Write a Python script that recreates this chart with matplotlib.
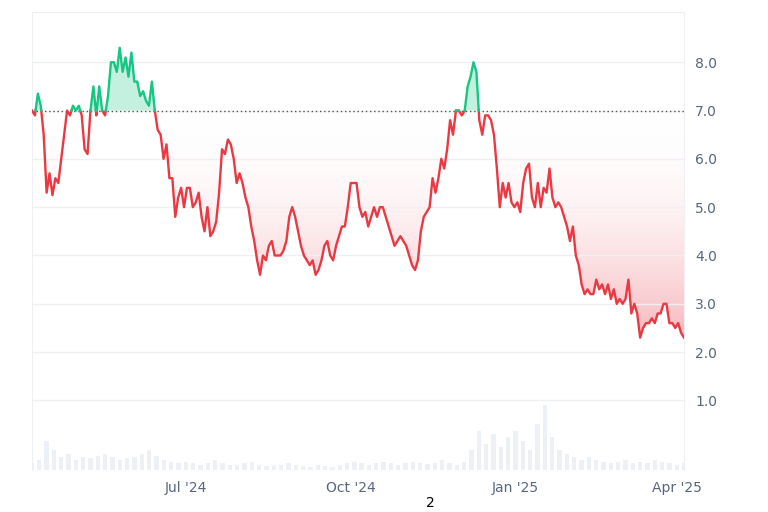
import numpy as np, pandas as pd, matplotlib
matplotlib.use("Agg")
import matplotlib.pyplot as plt
import matplotlib.dates as mdates
from matplotlib.patches import PathPatch
from matplotlib.path import Path
from matplotlib.colors import LinearSegmentedColormap

start, end = "2024-04-06", "2025-04-05"
values = [7.0,6.9,7.35,7.1,6.5,5.3,5.7,5.25,5.6,5.5,6.0,6.5,7.0,6.9,7.1,7.0,7.1,6.9,6.2,6.1,7.0,7.5,6.9,7.5,7.0,6.9,7.3,8.0,8.0,7.8,8.3,7.8,8.1,7.7,8.2,7.6,7.6,7.3,7.4,7.2,7.1,7.6,7.0,6.6,6.5,6.0,6.3,5.6,5.6,4.8,5.2,5.4,5.0,5.4,5.4,5.0,5.1,5.3,4.8,4.5,5.0,4.4,4.5,4.7,5.3,6.2,6.1,6.4,6.3,6.0,5.5,5.7,5.5,5.2,5.0,4.6,4.3,3.9,3.6,4.0,3.9,4.2,4.3,4.0,4.0,4.0,4.1,4.3,4.8,5.0,4.8,4.5,4.2,4.0,3.9,3.8,3.9,3.6,3.7,3.9,4.2,4.3,4.0,3.9,4.2,4.4,4.6,4.6,5.0,5.5,5.5,5.5,5.0,4.8,4.9,4.6,4.8,5.0,4.8,5.0,5.0,4.8,4.6,4.4,4.2,4.3,4.4,4.3,4.2,4.0,3.8,3.7,3.9,4.5,4.8,4.9,5.0,5.6,5.3,5.6,6.0,5.8,6.2,6.8,6.5,7.0,7.0,6.9,7.0,7.5,7.7,8.0,7.8,6.8,6.5,6.9,6.9,6.8,6.5,5.8,5.0,5.5,5.2,5.5,5.1,5.0,5.1,4.9,5.5,5.8,5.9,5.2,5.0,5.5,5.0,5.4,5.3,5.8,5.2,5.0,5.1,5.0,4.8,4.6,4.3,4.6,4.0,3.8,3.4,3.2,3.3,3.2,3.2,3.5,3.3,3.4,3.2,3.4,3.1,3.3,3.0,3.1,3.0,3.1,3.5,2.8,3.0,2.8,2.3,2.5,2.6,2.6,2.7,2.6,2.8,2.8,3.0,3.0,2.6,2.6,2.5,2.6,2.4,2.3]
volume = [0.1,0.15,0.45,0.3,0.2,0.25,0.15,0.2,0.18,0.22,0.25,0.2,0.15,0.18,0.2,0.25,0.3,0.22,0.15,0.12,0.1,0.12,0.1,0.08,0.1,0.15,0.1,0.08,0.07,0.1,0.12,0.08,0.06,0.07,0.08,0.1,0.08,0.06,0.05,0.07,0.06,0.05,0.08,0.1,0.12,0.1,0.08,0.1,0.12,0.1,0.08,0.1,0.12,0.1,0.09,0.1,0.15,0.1,0.08,0.12,0.3,0.6,0.4,0.55,0.35,0.5,0.6,0.45,0.3,0.7,1.0,0.5,0.3,0.25,0.2,0.15,0.2,0.15,0.12,0.1,0.12,0.15,0.1,0.12,0.1,0.15,0.12,0.1,0.08,0.1]
baseline = 7.0

dates = pd.date_range(start, end, periods=len(values))
vdates = pd.date_range(start, end, periods=len(volume))
v = np.array(values)

fig = plt.figure(figsize=(7.68, 5.12), dpi=100)
ax = fig.add_axes([32/768, 42/512, 652/768, 458/512])
vax = ax.twinx()
vax.set_zorder(0); ax.set_zorder(1); ax.patch.set_visible(False)
vax.bar(vdates, volume, width=(pd.Timestamp(end)-pd.Timestamp(start)).days/len(volume)*0.6, color="#edf0f4", zorder=0)
vax.set_ylim(0, 7); vax.set_yticks([])
for s in vax.spines.values(): s.set_visible(False)

ymin, ymax = -0.44, 9.04
xnum = mdates.date2num(dates)
ax.set_xlim(xnum[0], xnum[-1]); ax.set_ylim(ymin, ymax)

poly = ax.fill_between(xnum, v, baseline, where=v <= baseline, interpolate=True, color="none")
grad = np.linspace(0, 1, 256).reshape(-1, 1)
cmap = LinearSegmentedColormap.from_list("r", [(1, 1, 1, 0), (0.93, 0.35, 0.4, 0.45)])
im = ax.imshow(grad, extent=[xnum[0], xnum[-1], 2.2, baseline], aspect="auto", cmap=cmap, origin="upper", zorder=1)
path = Path.make_compound_path(*poly.get_paths())
im.set_clip_path(PathPatch(path, transform=ax.transData))
ax.set_xlim(xnum[0], xnum[-1]); ax.set_ylim(ymin, ymax)
ax.fill_between(xnum, v, baseline, where=v >= baseline, interpolate=True, color="#16c784", alpha=0.25, lw=0, zorder=1)

xs, ys = [xnum[0]], [v[0]]
for i in range(1, len(v)):
    if (v[i-1]-baseline)*(v[i]-baseline) < 0:
        t = (baseline-v[i-1])/(v[i]-v[i-1])
        xs.append(xnum[i-1]+t*(xnum[i]-xnum[i-1])); ys.append(baseline)
    xs.append(xnum[i]); ys.append(v[i])
xs, ys = np.array(xs), np.array(ys)
ax.plot(xs, np.where(ys <= baseline, ys, np.nan), color="#ea3943", lw=1.7, zorder=3)
ax.plot(xs, np.where(ys >= baseline, ys, np.nan), color="#16c784", lw=1.7, zorder=3)
ax.axhline(baseline, color="#555", lw=1, ls=(0, (1, 2)), zorder=2)

ax.yaxis.tick_right()
ax.set_yticks([1, 2, 3, 4, 5, 6, 7, 8])
ax.set_yticklabels([f"{t:.1f}" for t in [1, 2, 3, 4, 5, 6, 7, 8]])
ax.grid(axis="y", color="#eef0f3", lw=1)
ticks = pd.to_datetime(["2024-07-01", "2024-10-01", "2025-01-01", "2025-04-01"])
ax.set_xticks(mdates.date2num(ticks))
ax.set_xticklabels(["Jul '24", "Oct '24", "Jan '25", "Apr '25"])
ax.tick_params(colors="#58667e", labelsize=10, length=0, pad=8)
for k, s in ax.spines.items():
    s.set_color("#eef0f3")
ax.spines["bottom"].set_visible(False)
fig.text(430/768, 1-503/512, "2", ha="center", va="center", fontsize=10)
fig.savefig("out.png", dpi=100)
